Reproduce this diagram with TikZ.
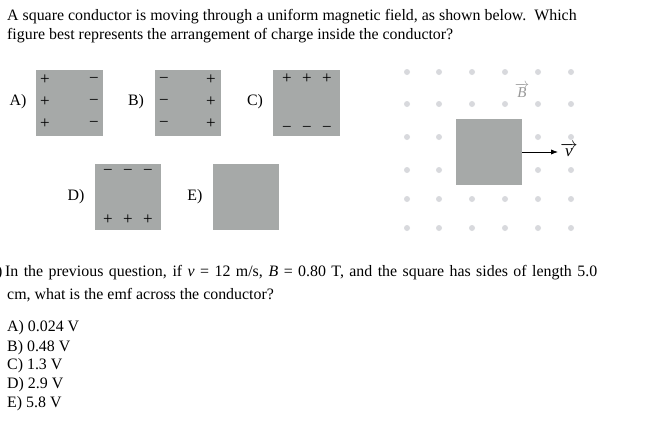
\documentclass[tikz,border=0pt]{standalone}
\usepackage{fontspec}
\setmainfont{Liberation Serif}
\usetikzlibrary{arrows.meta}
\begin{document}
\begin{tikzpicture}[x=1pt,y=-1pt,
  txt/.style={anchor=west,inner sep=0,font=\fontsize{15.9}{18}\selectfont},
  sq/.style={fill=condgray,draw=none},
  sym/.style={inner sep=0,font=\fontsize{17}{17}\selectfont},
  lab/.style={inner sep=0,font=\fontsize{15.9}{18}\selectfont},
  dot/.style={circle,fill=dotgray,inner sep=0,minimum size=6pt}]
\definecolor{condgray}{HTML}{A6A9A8}
\definecolor{dotgray}{HTML}{D8D9DD}
\useasboundingbox (0,0) rectangle (654,426);
\node[txt] (t1) at (7,17) {A square conductor is moving through a uniform magnetic field, as shown below.\ \ Which};
\node[txt] (t2) at (7,36) {figure best represents the arrangement of charge inside the conductor?};
% A
\fill[sq] (36,70) rectangle (103,136);
\node[lab] (la) at (18,102) {A)};
\foreach \y in {80,102,124}{\node[sym] at (45,\y) {+}; \node[sym] at (94,\y) {\textminus};}
% B
\fill[sq] (155,70) rectangle (221,136);
\node[lab] (lb) at (136,102) {B)};
\foreach \y in {80,102,124}{\node[sym] at (164,\y) {\textminus}; \node[sym] at (211,\y) {+};}
% C
\fill[sq] (273,70) rectangle (340,136);
\node[lab] (lc) at (255,102) {C)};
\foreach \x in {287,307,327}{\node[sym] at (\x,79) {+}; \node[sym] at (\x,129) {\textminus};}
% D
\fill[sq] (95,164) rectangle (161,230);
\node[lab] (ld) at (76,197) {D)};
\foreach \x in {108,128,148}{\node[sym] at (\x,172) {\textminus}; \node[sym] at (\x,220) {+};}
% E
\fill[sq] (213,164) rectangle (279,230);
\node[lab] (le) at (195,197) {E)};
% field
\foreach \x in {407,439,472,505,538,571}{\foreach \y in {72,104,137,170,199,228}{\node[dot] at (\x,\y) {};}}
\fill[sq] (456,119) rectangle (522,185);
\coordinate (vs) at (522,152);
\coordinate (ve) at (558,152);
\draw[-{Latex[length=7pt]},line width=0.8pt] (vs) -- (ve);
\node[inner sep=0,text=gray!80,font=\fontsize{15}{15}\selectfont] (bl) at (522,90) {$\overrightarrow{\mbox{\itshape B}}$};
\node[inner sep=0,font=\fontsize{17}{17}\selectfont] (vl) at (569,150) {$\overrightarrow{\mbox{\itshape v}}$};
% Q2
\node[txt] (q1) at (-3,273) {\makebox[600pt][s]{)\,In the previous question, if \textit{v} = 12 m/s, \textit{B} = 0.80 T, and the square has sides of length 5.0}};
\node[txt] (q2) at (7,295) {cm, what is the emf across the conductor?};
\node[txt] (a1) at (7,328) {A) 0.024 V};
\node[txt] (a2) at (7,348) {B) 0.48 V};
\node[txt] (a3) at (7,366) {C) 1.3 V};
\node[txt] (a4) at (7,385) {D) 2.9 V};
\node[txt] (a5) at (7,404) {E) 5.8 V};
\end{tikzpicture}
\end{document}
